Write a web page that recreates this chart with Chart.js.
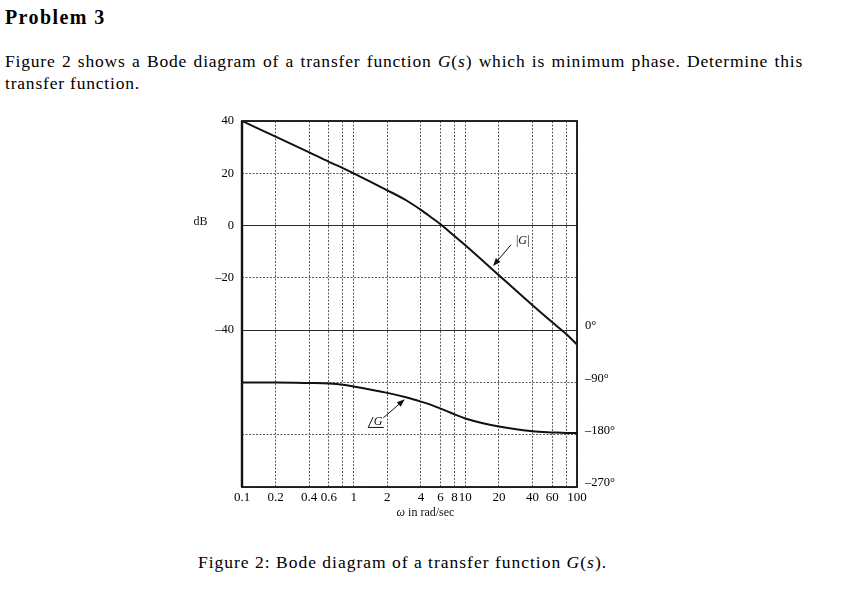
<!DOCTYPE html>
<html>
<head>
<meta charset="utf-8">
<script src="https://cdn.jsdelivr.net/npm/chart.js@4.4.1/dist/chart.umd.min.js"></script>
<style>
  html, body { margin: 0; padding: 0; background: #fff; }
  body { width: 847px; height: 614px; position: relative; overflow: hidden;
         font-family: "Liberation Serif", "Times New Roman", serif; color: #000; }
  .txt { position: absolute; white-space: nowrap; line-height: 1; }
  #heading { left: 5px; top: 6.5px; font-size: 20px; font-weight: bold; letter-spacing: 1.4px; }
  #line1 { left: 5px; top: 52.5px; width: 798px; font-size: 17.5px; letter-spacing: 0.8px;
           text-align: justify; text-align-last: justify; }
  #line2 { left: 5px; top: 75px; font-size: 17.5px; letter-spacing: 0.8px; }
  #caption { left: 0; top: 553.6px; width: 805px; text-align: center; font-size: 17.5px; letter-spacing: 1px; }
  #plot { position: absolute; left: 180px; top: 105px; width: 460px; height: 425px; }
</style>
</head>
<body>
<div class="txt" id="heading">Problem 3</div>
<div class="txt" id="line1">Figure 2 shows a Bode diagram of a transfer function <i>G</i>(<i>s</i>) which is minimum phase. Determine this</div>
<div class="txt" id="line2">transfer function.</div>
<div id="plot"><canvas id="bode"></canvas></div>
<div class="txt" id="caption">Figure 2: Bode diagram of a transfer function <i>G</i>(<i>s</i>).</div>

<script>
// frequencies (rad/sec)
const omega = [0.1, 0.2, 0.4, 0.6, 0.8, 1, 2, 3, 4, 5, 6, 8, 10, 20, 40, 60, 80, 100];
// |G| in dB
const magDb = [40, 34, 28, 24.4, 22, 20, 13.5, 9.5, 6, 3, 0.5, -4, -7.5, -19, -30.5, -37, -41.5, -45.5];
// angle of G in degrees
const phaseDeg = [-90, -90, -91, -92, -94, -97, -108, -116, -123, -129, -135, -145, -152, -166, -174, -176, -177, -177];

const xTickValues = [0.1, 0.2, 0.4, 0.6, 0.8, 1, 2, 4, 6, 8, 10, 20, 40, 60, 80, 100];
const xTickLabels = ['0.1', '0.2', '0.4', '0.6', '', '1', '2', '4', '6', '8', '10', '20', '40', '60', '', '100'];
const dbLabelled = [40, 20, 0, -20, -40];
const degLabelled = [0, -90, -180, -270];

const FONT = 'Liberation Serif';
const GRID = '#5a5a5a';
const INK = '#111';

function minus(v) {
  return v < 0 ? '\u2013' + Math.abs(v) : String(v);
}

function arrow(ctx, x1, y1, x2, y2) {
  const ang = Math.atan2(y2 - y1, x2 - x1);
  ctx.beginPath();
  ctx.moveTo(x1, y1);
  ctx.lineTo(x2 - 4 * Math.cos(ang), y2 - 4 * Math.sin(ang));
  ctx.stroke();
  ctx.beginPath();
  ctx.moveTo(x2, y2);
  ctx.lineTo(x2 - 8 * Math.cos(ang) + 3 * Math.sin(ang), y2 - 8 * Math.sin(ang) - 3 * Math.cos(ang));
  ctx.lineTo(x2 - 8 * Math.cos(ang) - 3 * Math.sin(ang), y2 - 8 * Math.sin(ang) + 3 * Math.cos(ang));
  ctx.closePath();
  ctx.fill();
}

const bodeDecor = {
  id: 'bodeDecor',
  afterDatasetsDraw(chart) {
    const { ctx, chartArea: a } = chart;
    const x = chart.scales.x, y = chart.scales.y, y2 = chart.scales.y2;
    ctx.save();
    ctx.strokeStyle = INK;
    ctx.fillStyle = INK;

    // frame
    ctx.lineWidth = 1.8;
    ctx.strokeRect(a.left, a.top, a.right - a.left, a.bottom - a.top);
    ctx.lineWidth = 2.4;
    ctx.beginPath();
    ctx.moveTo(a.left, a.top);
    ctx.lineTo(a.left, a.bottom);
    ctx.stroke();

    // dB label
    ctx.font = '12px "' + FONT + '"';
    ctx.textAlign = 'center';
    ctx.textBaseline = 'middle';
    ctx.fillText('dB', a.left - 41.5, y.getPixelForValue(0) - 4);

    // x axis title
    const tx = (a.left + a.right) / 2 + 16;
    const ty = a.bottom + 26;
    ctx.textAlign = 'left';
    ctx.font = 'italic 12px "' + FONT + '"';
    const wOm = ctx.measureText('\u03c9').width;
    ctx.font = '12px "' + FONT + '"';
    const wRest = ctx.measureText(' in rad/sec').width;
    let sx = tx - (wOm + wRest) / 2;
    ctx.font = 'italic 12px "' + FONT + '"';
    ctx.fillText('\u03c9', sx, ty);
    ctx.font = '12px "' + FONT + '"';
    ctx.fillText(' in rad/sec', sx + wOm, ty);

    // |G| label and arrow
    ctx.lineWidth = 1;
    arrow(ctx, x.getPixelForValue(25.7), y.getPixelForValue(-7.3),
               x.getPixelForValue(17.7), y.getPixelForValue(-15.5));
    const gx = x.getPixelForValue(32.6), gy = y.getPixelForValue(-6);
    ctx.font = '12px "' + FONT + '"';
    const wBar = ctx.measureText('|').width;
    ctx.font = 'italic 12px "' + FONT + '"';
    const wG = ctx.measureText('G').width;
    sx = gx - (2 * wBar + wG) / 2;
    ctx.font = '12px "' + FONT + '"';
    ctx.fillText('|', sx, gy);
    ctx.fillText('|', sx + wBar + wG + 0.5, gy);
    ctx.font = 'italic 12px "' + FONT + '"';
    ctx.fillText('G', sx + wBar, gy);

    // angle G label and arrow
    arrow(ctx, x.getPixelForValue(1.84), y2.getPixelForValue(-151),
               x.getPixelForValue(2.87), y2.getPixelForValue(-119));
    const ax = x.getPixelForValue(1.57), ay = y2.getPixelForValue(-158);
    ctx.font = 'italic 12px "' + FONT + '"';
    const wA = ctx.measureText('G').width;
    const left = ax - (wA + 6) / 2;
    ctx.lineWidth = 1;
    ctx.beginPath();
    ctx.moveTo(left, ay + 5.5);
    ctx.lineTo(left + 5, ay - 5);
    ctx.moveTo(left, ay + 5.5);
    ctx.lineTo(left + 6 + wA + 1, ay + 5.5);
    ctx.stroke();
    ctx.fillText('G', left + 5.5, ay);

    ctx.restore();
  }
};

const isSolid = v => v === 0 || v === -40;

new Chart(document.getElementById('bode'), {
  type: 'line',
  data: {
    datasets: [
      {
        label: '|G|',
        data: omega.map((w, i) => ({ x: w, y: magDb[i] })),
        yAxisID: 'y',
        borderColor: INK,
        borderWidth: 2,
        pointRadius: 0,
        cubicInterpolationMode: 'monotone',
        fill: false
      },
      {
        label: '\u2220G',
        data: omega.map((w, i) => ({ x: w, y: phaseDeg[i] })),
        yAxisID: 'y2',
        borderColor: INK,
        borderWidth: 2,
        pointRadius: 0,
        cubicInterpolationMode: 'monotone',
        fill: false
      }
    ]
  },
  options: {
    responsive: true,
    maintainAspectRatio: false,
    animation: false,
    layout: { padding: { top: 16, left: 0, right: 0, bottom: 0 } },
    plugins: {
      legend: { display: false },
      tooltip: { enabled: false }
    },
    scales: {
      x: {
        type: 'logarithmic',
        min: 0.1,
        max: 100,
        afterBuildTicks: function(scale) {
          scale.ticks = xTickValues.map(v => ({ value: v }));
        },
        afterFit: function(scale) { scale.height = 43; },
        ticks: {
          autoSkip: false,
          maxRotation: 0,
          padding: 3,
          color: '#000',
          font: { family: FONT, size: 13 },
          callback: function(value, index) { return xTickLabels[index]; }
        },
        grid: { color: GRID, lineWidth: 1, drawTicks: false },
        border: { display: false, dash: [2, 1.5] }
      },
      y: {
        position: 'left',
        min: -100,
        max: 40,
        afterFit: function(scale) { scale.width = 62; },
        ticks: {
          stepSize: 20,
          padding: 8,
          color: '#000',
          font: { family: FONT, size: 12.5 },
          callback: function(value) { return dbLabelled.includes(value) ? minus(value) : ''; }
        },
        grid: {
          drawTicks: false,
          lineWidth: 1,
          color: ctx => (ctx.tick && isSolid(ctx.tick.value)) ? '#2a2a2a' : GRID
        },
        border: {
          display: false,
          dash: ctx => (ctx.tick && isSolid(ctx.tick.value)) ? [] : [2, 1.5]
        }
      },
      y2: {
        position: 'right',
        min: -270,
        max: 360,
        afterFit: function(scale) { scale.width = 63; },
        ticks: {
          stepSize: 90,
          padding: 8,
          labelOffset: -4,
          color: '#000',
          font: { family: FONT, size: 12.5 },
          callback: function(value) { return degLabelled.includes(value) ? minus(value) + '\u00b0' : ''; }
        },
        grid: { display: false, drawTicks: false },
        border: { display: false }
      }
    }
  },
  plugins: [bodeDecor]
});
</script>
</body>
</html>
